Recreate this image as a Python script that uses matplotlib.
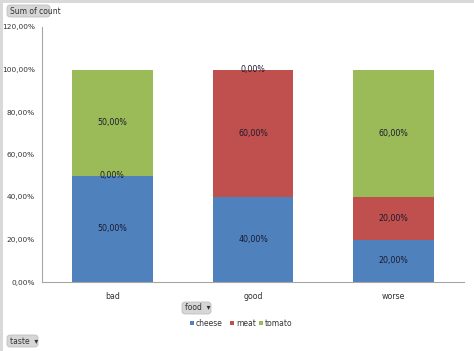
import matplotlib.pyplot as plt
from matplotlib.patches import FancyBboxPatch, Rectangle
import numpy as np

categories = ["bad", "good", "worse"]
series_names = ["cheese", "meat", "tomato"]
cheese = [50.0, 40.0, 20.0]
meat = [0.0, 60.0, 20.0]
tomato = [50.0, 0.0, 60.0]
yticks = [0, 20, 40, 60, 80, 100, 120]
colors = ["#4F81BD", "#C0504D", "#9BBB59"]

fig = plt.figure(figsize=(4.74, 3.51), dpi=100)
fig.patch.set_facecolor("white")
ax = fig.add_axes([42/474, 1-282/351, (464-42)/474, (282-27)/351])

x = np.arange(len(categories))
bottom = np.zeros(len(categories))
for name, vals, c in zip(series_names, [cheese, meat, tomato], colors):
    vals = np.array(vals)
    ax.bar(x, vals, width=0.575, bottom=bottom, color=c, label=name)
    for xi, b, v in zip(x, bottom, vals):
        ax.text(xi, b + v/2, f"{v:.2f}".replace(".", ",") + "%", ha="center", va="center",
                fontsize=5.7, color="#1a1a2e")
    bottom += vals

ax.set_xlim(-0.5, 2.5)
ax.set_ylim(0, 120)
ax.set_yticks(yticks)
ax.set_yticklabels([f"{t:.2f}".replace(".", ",") + "%" for t in yticks], fontsize=5.3, color="#333333")
ax.set_xticks(x)
ax.set_xticklabels(categories, fontsize=5.7, color="#333333")
ax.tick_params(axis="y", length=0, pad=5)
ax.tick_params(axis="x", length=0, pad=7)
for s in ["top", "right"]:
    ax.spines[s].set_visible(False)
for s in ["left", "bottom"]:
    ax.spines[s].set_color("#A6A6A6")
    ax.spines[s].set_linewidth(0.8)

# frame lines of figure
fig.add_artist(Rectangle((0, 1-3/351), 1, 3/351, transform=fig.transFigure, color="#D9D9D9", lw=0))
fig.add_artist(Rectangle((0, 0), 3/474, 1, transform=fig.transFigure, color="#D9D9D9", lw=0))

def button(x0, y0, w, h, text):
    fig.add_artist(FancyBboxPatch((x0/474, 1-(y0+h)/351), w/474, h/351,
                                  boxstyle="round,pad=0,rounding_size=0.008",
                                  transform=fig.transFigure, facecolor="#D6D6D6",
                                  edgecolor="#BFBFBF", lw=0.6))
    fig.text((x0+3)/474, 1-(y0+h/2)/351, text, fontsize=5.5, va="center", ha="left", color="#333333")

button(7, 5, 43, 12, "Sum of count")
button(182, 302, 29, 12, "food  \u25be")
button(7, 335, 31, 12, "taste  \u25be")

# legend
lx = [190, 230, 259]
for px, name, c in zip(lx, series_names, colors):
    fig.add_artist(Rectangle((px/474, 1-325/351), 4/474, 4/351, transform=fig.transFigure, color=c, lw=0))
    fig.text((px+6)/474, 1-323/351, name, fontsize=5.5, va="center", ha="left", color="#333333")

fig.savefig("out.png", dpi=100)
